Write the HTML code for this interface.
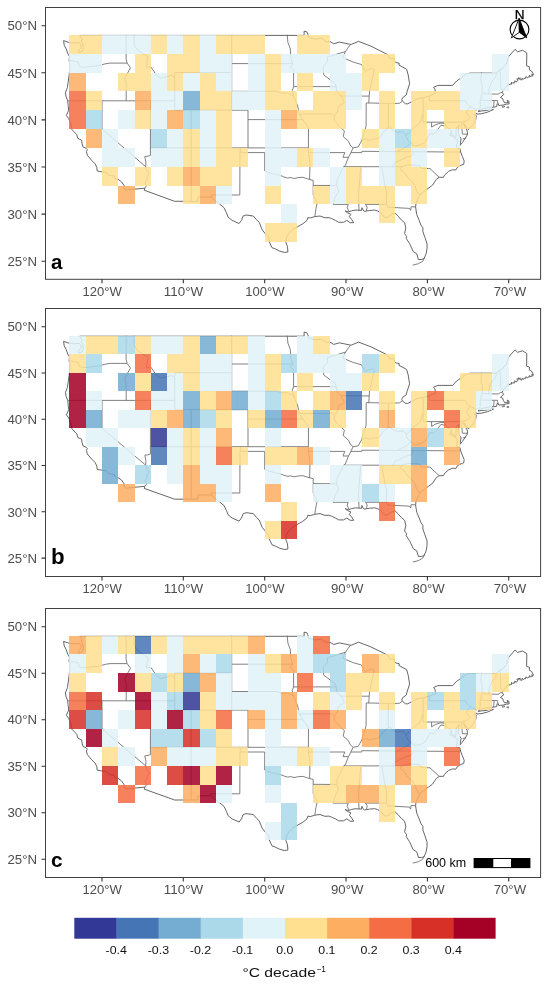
<!DOCTYPE html>
<html lang="en"><head><meta charset="utf-8"><title>Temperature trends</title>
<style>
html,body{margin:0;padding:0;background:#fff}
body{width:550px;height:984px;overflow:hidden}
svg{display:block}
text{font-family:"Liberation Sans",Arial,sans-serif}
.t{font-size:12px;fill:#4d4d4d}
.pl{font-size:20.5px;font-weight:bold;fill:#000}
.lt{font-size:10.9px;fill:#111}
.ltt{font-size:13.3px;fill:#111}
</style></head><body>
<svg width="550" height="984" viewBox="0 0 550 984">
<rect width="550" height="984" fill="#fff"/>
<g class="panel">
<path d="M79.6,35.4 L80.9,37.2 L82.1,39.1 L81.3,40.9 L82.9,43.3 L83.3,47.5 L82.5,50.8 L78.8,52.7 L78.0,50.8 L80.9,48.0 L81.3,45.2 L79.6,42.8 L76.8,42.8 L73.5,43.0 L68.7,42.4 L63.6,40.6 L64.2,45.2 L66.2,48.9 L67.8,53.7 L69.5,56.5 L69.1,60.5 L69.9,64.0 L69.7,69.7 L69.1,75.3 L68.2,81.9 L67.4,87.6 L65.4,92.8 L66.2,97.0 L67.7,100.8 L68.2,105.5 L68.7,110.2 L66.4,115.4 L68.7,118.7 L71.1,124.3 L71.9,129.5 L76.8,134.7 L77.8,138.4 L81.7,140.3 L82.1,143.6 L82.9,146.9 L86.1,148.3 L87.4,149.7 L86.4,151.6 L87.4,155.4 L91.4,160.1 L95.1,163.9 L96.9,167.6 L97.1,170.9 L101.2,171.7 L106.1,172.4 L108.5,174.7 L111.8,175.9 L114.2,175.9 L115.0,178.5 L117.5,178.9 L121.5,181.8 L124.0,185.5 L124.4,188.4 L125.4,190.0 L144.9,188.2 L144.2,190.2 L174.6,201.3 L197.9,201.3 L197.9,197.0 L211.6,197.0 L214.2,200.0 L219.1,203.6 L224.0,207.7 L226.5,212.9 L228.1,217.1 L232.1,220.4 L239.1,223.5 L241.5,220.4 L243.0,216.2 L246.0,215.0 L253.3,216.0 L256.5,219.7 L259.2,222.3 L262.2,229.8 L265.9,234.5 L268.7,237.3 L269.2,241.6 L272.0,247.7 L275.3,248.9 L279.3,251.0 L284.2,252.4 L287.9,252.0 L287.5,246.8 L285.8,242.1 L286.6,237.3 L288.7,233.6 L292.3,229.8 L297.2,227.0 L302.9,223.7 L307.0,220.4 L307.8,217.6 L310.2,218.0 L314.8,216.6 L320.0,216.0 L324.9,217.8 L328.9,217.6 L331.4,218.5 L335.4,220.4 L338.7,222.3 L343.6,222.3 L346.8,220.4 L350.1,222.7 L353.7,222.7 L351.7,219.5 L349.3,216.6 L350.9,214.3 L347.6,212.9 L345.2,211.0 L348.5,211.9 L351.7,210.8 L355.8,210.0 L359.0,210.3 L361.5,210.5 L361.9,207.7 L363.1,210.0 L364.3,211.4 L366.4,211.0 L369.6,210.5 L374.5,210.0 L377.7,211.0 L381.0,212.9 L383.8,216.8 L386.7,217.6 L391.6,214.3 L394.8,212.9 L398.1,216.2 L401.3,219.9 L404.6,222.7 L405.8,227.9 L404.6,233.6 L406.6,236.4 L406.2,238.3 L409.5,243.5 L411.1,246.8 L413.1,251.5 L416.8,253.8 L418.4,259.5 L421.7,259.5 L424.1,258.5 L426.1,253.8 L427.0,248.7 L427.1,243.9 L424.9,237.3 L422.9,231.7 L422.9,227.9 L420.9,225.1 L419.2,220.4 L416.8,214.7 L416.0,210.0 L415.6,207.0 L416.0,203.4 L418.0,198.7 L420.3,194.5 L423.7,191.7 L428.2,188.4 L432.6,185.1 L434.7,181.8 L436.3,179.4 L439.2,177.3 L443.6,177.3 L444.4,175.2 L448.5,171.4 L452.6,169.7 L455.8,170.0 L457.5,167.2 L461.9,164.8 L463.7,164.3 L464.2,161.0 L462.3,156.3 L460.7,152.1 L459.9,148.5 L457.5,148.3 L456.2,146.0 L457.5,142.7 L457.0,139.4 L452.6,136.6 L449.7,135.1 L451.4,131.4 L452.2,135.1 L455.8,137.0 L456.2,131.8 L456.2,128.1 L459.1,124.8 L458.3,130.0 L459.1,135.6 L461.1,138.9 L459.9,145.5 L462.3,142.7 L464.8,138.9 L467.2,135.1 L467.5,132.8 L467.2,130.9 L464.8,126.7 L463.6,123.4 L465.2,125.3 L468.4,129.7 L471.3,126.7 L473.7,123.8 L475.8,119.6 L476.2,115.4 L474.1,114.9 L476.2,113.0 L476.6,114.1 L481.9,113.7 L487.6,112.1 L493.5,109.5 L490.0,109.2 L486.7,110.5 L481.9,110.9 L478.2,111.6 L479.0,110.2 L483.5,108.6 L488.4,107.6 L493.6,107.2 L496.5,106.7 L497.3,103.6 L498.9,105.5 L500.6,105.3 L503.4,105.0 L506.3,104.2 L509.1,103.9 L508.9,101.2 L507.1,100.3 L508.3,102.6 L504.6,102.8 L503.4,100.8 L502.6,98.4 L500.6,97.7 L501.8,96.0 L503.8,94.6 L502.2,92.6 L503.0,90.6 L505.4,87.6 L507.1,85.2 L508.1,85.7 L508.4,83.5 L509.8,84.9 L510.3,83.8 L511.4,84.3 L511.6,82.1 L513.0,83.5 L513.6,82.4 L514.6,82.9 L514.9,80.7 L516.3,82.1 L516.8,81.0 L517.9,80.6 L516.8,78.8 L518.7,78.9 L518.5,77.7 L518.7,78.8 L520.2,77.8 L519.9,79.8 L520.9,79.6 L522.0,80.0 L522.2,77.9 L523.6,79.3 L524.2,78.2 L525.4,78.6 L525.9,76.5 L527.4,77.9 L528.2,76.7 L529.2,77.3 L529.6,75.2 L530.8,76.8 L531.5,75.8 L532.4,76.1 L531.8,74.2 L533.3,75.2 L533.3,74.2 L531.5,70.9 L529.4,69.9 L529.4,66.8 L526.6,65.9 L526.8,53.0 L522.5,50.3 L517.6,51.8 L515.0,49.3 L508.7,56.5 L506.3,64.0 L502.2,68.7 L499.9,69.7 L496.5,73.1 L481.5,73.1 L470.1,73.1 L465.6,74.1 L461.5,77.7 L459.1,79.3 L456.6,81.0 L452.6,85.4 L437.9,85.4 L433.5,87.3 L434.9,88.9 L435.3,91.3 L436.1,92.9 L429.3,96.0 L423.3,97.7 L417.2,98.8 L407.8,103.8 L405.4,103.8 L402.4,101.1 L401.7,99.8 L402.6,97.7 L406.2,95.1 L407.0,91.8 L409.6,83.8 L408.2,74.9 L406.6,69.2 L398.9,65.0 L399.3,63.3 L395.6,62.4 L394.0,60.7 L394.0,58.2 L389.9,58.7 L387.8,54.6 L385.5,53.5 L370.9,46.1 L358.5,41.4 L351.3,44.4 L349.3,44.2 L345.2,43.3 L339.5,42.1 L333.8,43.8 L329.8,41.4 L326.5,41.9 L321.6,38.4 L315.1,39.1 L308.6,37.5 L307.8,33.9 L306.8,31.8 L304.1,31.2 L304.1,35.4 L79.6,35.4Z" fill="none" stroke="#5e5e5e" stroke-width="0.95" stroke-linejoin="round"/>
<path d="M501.9,106.9 L503.8,105.8 L505.0,106.6 L502.6,107.4 L501.9,106.9M506.7,107.4 L508.3,106.6 L508.9,107.8 L507.1,107.9 L506.7,107.4M424.5,258.1 L422.5,261.4 L418.4,263.7 L412.7,265.1M69.1,60.5 L74.3,61.2 L78.4,62.1 L79.2,66.4 L84.1,67.3 L92.2,66.4 L97.9,65.9 L105.3,63.8 L110.1,63.1 L127.1,63.1M126.1,34.8 L126.1,59.0 L127.1,63.1 L130.5,67.8 L127.6,73.0 L124.8,78.6 L126.2,83.3 L126.2,100.8M67.7,100.8 L174.8,100.8M102.0,100.8 L102.0,129.0 L145.7,166.7 L146.2,168.6 L148.0,172.4 L149.6,173.6 L147.1,176.6 L146.6,180.4 L144.9,182.2 L146.7,185.5 L144.9,188.2M145.7,166.7 L145.9,162.0 L144.8,156.5 L148.0,156.1 L150.4,155.4 L150.4,147.9 L150.5,100.8M150.4,147.9 L308.4,147.9M191.1,201.3 L191.1,110.2M174.8,100.8 L174.8,110.2 L231.7,110.2M174.8,100.8 L174.8,72.5 L231.7,72.5M174.8,77.5 L171.5,75.3 L164.6,77.2 L160.2,78.2 L155.3,73.4 L150.8,66.8 L146.3,67.3 L148.0,57.0 L143.1,53.7 L137.0,49.4 L134.1,44.2 L134.1,34.8M231.7,34.8 L231.7,110.2M231.7,63.6 L292.7,63.6M231.7,91.3 L276.9,91.3 L281.8,93.2 L287.5,92.8 L291.5,95.1 L293.6,96.1M231.7,110.2 L248.0,110.2 L248.0,147.9M248.0,119.6 L302.9,119.6M240.3,147.9 L240.3,152.6 L264.7,152.6 L264.7,170.8 L267.9,172.4 L271.2,173.3 L276.1,174.7 L280.1,175.2 L284.2,177.1 L287.5,178.0 L290.7,177.5 L294.0,178.5 L298.8,177.5 L302.9,177.3 L307.8,178.9 L309.6,179.5 L313.2,180.4 L313.2,195.0 L315.5,199.7 L317.1,203.4 L315.9,209.1 L315.5,211.9 L314.8,216.6M240.0,152.6 L239.8,195.0 L210.8,195.0 L211.6,197.0M309.6,179.5 L310.0,162.9 L308.4,152.6 L308.4,147.9 L308.5,128.1 L305.4,123.4 L302.9,119.6 L299.1,114.1 L298.0,107.4 L296.4,102.6 L293.6,96.1 L292.3,90.4 L293.6,86.6 L293.6,69.7 L290.3,66.8 L292.7,63.6 L290.7,57.4 L290.3,48.9 L287.9,42.4 L287.2,34.8M293.6,86.6 L336.1,86.6M299.1,114.1 L331.9,113.9 L334.5,116.0M329.8,56.5 L327.4,56.9 L327.4,62.1 L323.2,66.8 L323.7,74.9 L330.6,80.0 L335.4,83.8 L336.1,86.6 L337.1,92.3 L340.8,96.0 L344.4,102.6 L338.7,106.4 L337.1,112.1 L334.5,116.0 L334.2,120.5 L339.5,126.7 L344.4,130.9 L343.2,136.6 L348.5,141.3 L350.1,145.0 L353.1,147.9 L350.9,152.6 L348.5,157.3 L345.2,165.8 L343.6,166.7 L341.1,172.4 L337.1,179.9 L336.7,185.5 L338.7,191.2 L335.4,196.8 L333.0,204.4 L348.2,204.4 L347.2,207.7 L349.3,211.9M308.4,152.6 L344.8,152.6 L343.0,157.3 L348.5,157.3M313.2,185.4 L336.7,185.5M340.8,96.0 L363.9,96.1M350.5,44.5 L347.6,48.3 L345.5,51.6 L343.7,55.1 L342.8,57.7 L353.3,62.1 L361.5,64.5 L363.9,69.2 L365.5,71.6 L368.0,69.9 L371.8,68.4 L374.5,70.1 L374.0,72.0 L371.8,80.7 L369.6,90.9 L369.2,96.1 L368.8,103.0M329.8,56.5 L337.9,53.8 L345.5,51.6M363.9,96.1 L369.2,96.1M366.2,103.6 L366.2,103.0 L372.0,103.0M399.3,103.3 L402.4,101.1M423.1,100.9 L423.1,97.7M429.3,98.2 L429.3,96.0M366.2,103.6 L366.1,125.7 L365.1,130.0 L362.7,136.1 L361.9,140.3M353.1,147.9 L358.2,146.9 L361.9,140.3 L365.5,138.9 L369.6,140.3 L374.5,138.9 L378.6,138.4 L381.0,135.6 L383.4,131.8 L388.2,128.1 L390.8,128.1 L393.2,130.9 L397.3,132.3 L403.0,131.8 L406.2,134.7 L409.5,132.8 L413.1,128.1 L419.2,123.4 L420.4,122.0 L422.1,115.8 L423.1,113.6M388.2,128.1 L388.3,103.6M372.0,103.0 L388.3,103.6 L399.3,103.3M423.1,100.9 L423.1,122.2M429.3,98.2 L429.3,100.8 L465.2,100.8 L467.6,104.5 L470.5,106.9 L467.2,110.7 L466.4,113.5 L470.1,117.7 L467.2,120.5 L464.4,121.5 L463.6,123.4M470.5,106.9 L477.0,110.2M423.1,122.2 L461.6,122.2 L463.1,121.2 L464.4,121.5M461.6,122.2 L462.3,134.1 L467.6,134.2M431.6,122.2 L431.6,127.1 L435.5,124.8 L440.4,123.2 L444.8,123.4 L445.9,126.0 L447.7,128.1 L450.9,130.0 L451.4,131.4M445.9,126.0 L440.8,125.3 L436.6,131.2 L433.1,134.2 L430.2,133.3 L424.9,142.7 L419.2,145.2 L413.9,146.0 L411.3,142.8 L408.7,141.3 L406.2,136.8 L406.2,134.7M411.3,142.8 L405.4,147.4 L397.4,151.6M460.7,152.1 L413.7,151.7 L397.4,151.6 L361.9,151.3 L361.7,152.6 L350.9,152.6M413.7,151.7 L411.1,156.1 L406.2,157.3 L402.1,159.4 L394.8,162.9 L392.2,166.8M402.1,166.7 L343.6,166.7M402.1,166.7 L407.8,164.8 L418.8,165.3 L419.8,165.8 L420.9,168.4 L430.0,168.6 L439.2,177.3M402.1,166.7 L400.1,169.5 L403.8,171.9 L406.6,176.1 L409.5,179.4 L411.5,181.1 L415.2,185.5 L416.0,189.3 L418.4,194.0 L420.3,194.5M381.8,166.9 L385.2,186.9 L386.7,192.1 L386.3,199.2 L386.7,204.4 L387.8,207.2 L409.5,208.4 L410.7,210.4 L411.1,206.7 L415.6,207.0M386.7,204.4 L365.5,204.4 L367.2,207.2 L366.4,211.0M360.7,166.8 L358.5,195.9 L359.0,210.3M481.5,72.4 L481.0,77.2 L481.0,81.9 L482.3,85.7 L482.1,93.7 L480.2,100.3 L480.3,107.4 L478.4,109.2 L479.0,110.2M496.5,72.4 L495.7,77.2 L492.0,81.0 L490.0,85.7 L488.8,90.4 L488.7,93.9M482.1,93.7 L498.1,94.2 L500.6,92.6 L502.2,92.6M480.2,100.3 L494.1,100.6 L497.5,100.6 L497.5,101.7 L498.9,105.5M494.1,100.6 L493.6,107.2M499.9,69.7 L500.6,81.9 L500.8,87.6 L503.0,90.6M462.7,138.9 L466.1,138.2" fill="none" stroke="#6a6a6a" stroke-width="0.85" stroke-linejoin="round"/>
<g shape-rendering="crispEdges" opacity="0.86"><rect x="69.46" y="34.82" width="16.27" height="18.84" fill="#fee090"/><rect x="85.73" y="34.82" width="16.27" height="18.84" fill="#fee090"/><rect x="102.00" y="34.82" width="16.27" height="18.84" fill="#e0f3f8"/><rect x="118.27" y="34.82" width="16.27" height="18.84" fill="#e0f3f8"/><rect x="134.54" y="34.82" width="16.27" height="18.84" fill="#e0f3f8"/><rect x="150.80" y="34.82" width="16.27" height="18.84" fill="#fee090"/><rect x="167.07" y="34.82" width="16.27" height="18.84" fill="#e0f3f8"/><rect x="183.34" y="34.82" width="16.27" height="18.84" fill="#fee090"/><rect x="199.61" y="34.82" width="16.27" height="18.84" fill="#e0f3f8"/><rect x="215.88" y="34.82" width="16.27" height="18.84" fill="#fee090"/><rect x="232.14" y="34.82" width="16.27" height="18.84" fill="#fee090"/><rect x="248.41" y="34.82" width="16.27" height="18.84" fill="#fee090"/><rect x="297.22" y="34.82" width="16.27" height="18.84" fill="#fee090"/><rect x="313.48" y="34.82" width="16.27" height="18.84" fill="#fee090"/><rect x="69.46" y="53.66" width="16.27" height="18.84" fill="#e0f3f8"/><rect x="85.73" y="53.66" width="16.27" height="18.84" fill="#e0f3f8"/><rect x="134.54" y="53.66" width="16.27" height="18.84" fill="#fee090"/><rect x="167.07" y="53.66" width="16.27" height="18.84" fill="#fee090"/><rect x="183.34" y="53.66" width="16.27" height="18.84" fill="#fee090"/><rect x="199.61" y="53.66" width="16.27" height="18.84" fill="#e0f3f8"/><rect x="215.88" y="53.66" width="16.27" height="18.84" fill="#e0f3f8"/><rect x="248.41" y="53.66" width="16.27" height="18.84" fill="#e0f3f8"/><rect x="264.68" y="53.66" width="16.27" height="18.84" fill="#fee090"/><rect x="280.95" y="53.66" width="16.27" height="18.84" fill="#e0f3f8"/><rect x="297.22" y="53.66" width="16.27" height="18.84" fill="#e0f3f8"/><rect x="313.48" y="53.66" width="16.27" height="18.84" fill="#e0f3f8"/><rect x="329.75" y="53.66" width="16.27" height="18.84" fill="#e0f3f8"/><rect x="362.29" y="53.66" width="16.27" height="18.84" fill="#fee090"/><rect x="378.56" y="53.66" width="16.27" height="18.84" fill="#fee090"/><rect x="492.43" y="53.66" width="16.27" height="18.84" fill="#e0f3f8"/><rect x="69.46" y="72.50" width="16.27" height="18.84" fill="#fdae61"/><rect x="118.27" y="72.50" width="16.27" height="18.84" fill="#fee090"/><rect x="134.54" y="72.50" width="16.27" height="18.84" fill="#fee090"/><rect x="150.80" y="72.50" width="16.27" height="18.84" fill="#e0f3f8"/><rect x="167.07" y="72.50" width="16.27" height="18.84" fill="#fee090"/><rect x="183.34" y="72.50" width="16.27" height="18.84" fill="#e0f3f8"/><rect x="199.61" y="72.50" width="16.27" height="18.84" fill="#fee090"/><rect x="215.88" y="72.50" width="16.27" height="18.84" fill="#e0f3f8"/><rect x="248.41" y="72.50" width="16.27" height="18.84" fill="#e0f3f8"/><rect x="264.68" y="72.50" width="16.27" height="18.84" fill="#fee090"/><rect x="297.22" y="72.50" width="16.27" height="18.84" fill="#fee090"/><rect x="329.75" y="72.50" width="16.27" height="18.84" fill="#e0f3f8"/><rect x="346.02" y="72.50" width="16.27" height="18.84" fill="#e0f3f8"/><rect x="362.29" y="72.50" width="16.27" height="18.84" fill="#fee090"/><rect x="459.90" y="72.50" width="16.27" height="18.84" fill="#e0f3f8"/><rect x="476.16" y="72.50" width="16.27" height="18.84" fill="#e0f3f8"/><rect x="492.43" y="72.50" width="16.27" height="18.84" fill="#e0f3f8"/><rect x="69.46" y="91.34" width="16.27" height="18.84" fill="#f46d43"/><rect x="85.73" y="91.34" width="16.27" height="18.84" fill="#fee090"/><rect x="134.54" y="91.34" width="16.27" height="18.84" fill="#fdae61"/><rect x="150.80" y="91.34" width="16.27" height="18.84" fill="#e0f3f8"/><rect x="167.07" y="91.34" width="16.27" height="18.84" fill="#e0f3f8"/><rect x="183.34" y="91.34" width="16.27" height="18.84" fill="#74add1"/><rect x="199.61" y="91.34" width="16.27" height="18.84" fill="#fee090"/><rect x="215.88" y="91.34" width="16.27" height="18.84" fill="#fee090"/><rect x="232.14" y="91.34" width="16.27" height="18.84" fill="#e0f3f8"/><rect x="248.41" y="91.34" width="16.27" height="18.84" fill="#e0f3f8"/><rect x="264.68" y="91.34" width="16.27" height="18.84" fill="#fee090"/><rect x="280.95" y="91.34" width="16.27" height="18.84" fill="#fee090"/><rect x="313.48" y="91.34" width="16.27" height="18.84" fill="#fee090"/><rect x="329.75" y="91.34" width="16.27" height="18.84" fill="#fee090"/><rect x="346.02" y="91.34" width="16.27" height="18.84" fill="#e0f3f8"/><rect x="378.56" y="91.34" width="16.27" height="18.84" fill="#fee090"/><rect x="411.09" y="91.34" width="16.27" height="18.84" fill="#fee090"/><rect x="427.36" y="91.34" width="16.27" height="18.84" fill="#fee090"/><rect x="443.63" y="91.34" width="16.27" height="18.84" fill="#fee090"/><rect x="459.90" y="91.34" width="16.27" height="18.84" fill="#e0f3f8"/><rect x="476.16" y="91.34" width="16.27" height="18.84" fill="#e0f3f8"/><rect x="69.46" y="110.18" width="16.27" height="18.84" fill="#f46d43"/><rect x="85.73" y="110.18" width="16.27" height="18.84" fill="#abd9e9"/><rect x="118.27" y="110.18" width="16.27" height="18.84" fill="#e0f3f8"/><rect x="134.54" y="110.18" width="16.27" height="18.84" fill="#fee090"/><rect x="150.80" y="110.18" width="16.27" height="18.84" fill="#e0f3f8"/><rect x="167.07" y="110.18" width="16.27" height="18.84" fill="#fdae61"/><rect x="183.34" y="110.18" width="16.27" height="18.84" fill="#abd9e9"/><rect x="199.61" y="110.18" width="16.27" height="18.84" fill="#e0f3f8"/><rect x="215.88" y="110.18" width="16.27" height="18.84" fill="#fee090"/><rect x="264.68" y="110.18" width="16.27" height="18.84" fill="#e0f3f8"/><rect x="280.95" y="110.18" width="16.27" height="18.84" fill="#fdae61"/><rect x="297.22" y="110.18" width="16.27" height="18.84" fill="#fee090"/><rect x="313.48" y="110.18" width="16.27" height="18.84" fill="#fee090"/><rect x="329.75" y="110.18" width="16.27" height="18.84" fill="#fee090"/><rect x="378.56" y="110.18" width="16.27" height="18.84" fill="#fee090"/><rect x="411.09" y="110.18" width="16.27" height="18.84" fill="#fee090"/><rect x="443.63" y="110.18" width="16.27" height="18.84" fill="#fee090"/><rect x="459.90" y="110.18" width="16.27" height="18.84" fill="#fee090"/><rect x="85.73" y="129.02" width="16.27" height="18.84" fill="#fdae61"/><rect x="102.00" y="129.02" width="16.27" height="18.84" fill="#e0f3f8"/><rect x="150.80" y="129.02" width="16.27" height="18.84" fill="#abd9e9"/><rect x="167.07" y="129.02" width="16.27" height="18.84" fill="#e0f3f8"/><rect x="183.34" y="129.02" width="16.27" height="18.84" fill="#fee090"/><rect x="199.61" y="129.02" width="16.27" height="18.84" fill="#e0f3f8"/><rect x="215.88" y="129.02" width="16.27" height="18.84" fill="#fee090"/><rect x="264.68" y="129.02" width="16.27" height="18.84" fill="#e0f3f8"/><rect x="362.29" y="129.02" width="16.27" height="18.84" fill="#fee090"/><rect x="378.56" y="129.02" width="16.27" height="18.84" fill="#e0f3f8"/><rect x="394.82" y="129.02" width="16.27" height="18.84" fill="#abd9e9"/><rect x="411.09" y="129.02" width="16.27" height="18.84" fill="#fee090"/><rect x="427.36" y="129.02" width="16.27" height="18.84" fill="#e0f3f8"/><rect x="443.63" y="129.02" width="16.27" height="18.84" fill="#e0f3f8"/><rect x="102.00" y="147.86" width="16.27" height="18.84" fill="#e0f3f8"/><rect x="118.27" y="147.86" width="16.27" height="18.84" fill="#e0f3f8"/><rect x="150.80" y="147.86" width="16.27" height="18.84" fill="#e0f3f8"/><rect x="167.07" y="147.86" width="16.27" height="18.84" fill="#e0f3f8"/><rect x="183.34" y="147.86" width="16.27" height="18.84" fill="#fee090"/><rect x="199.61" y="147.86" width="16.27" height="18.84" fill="#e0f3f8"/><rect x="215.88" y="147.86" width="16.27" height="18.84" fill="#fee090"/><rect x="232.14" y="147.86" width="16.27" height="18.84" fill="#fee090"/><rect x="264.68" y="147.86" width="16.27" height="18.84" fill="#e0f3f8"/><rect x="280.95" y="147.86" width="16.27" height="18.84" fill="#e0f3f8"/><rect x="297.22" y="147.86" width="16.27" height="18.84" fill="#fee090"/><rect x="313.48" y="147.86" width="16.27" height="18.84" fill="#e0f3f8"/><rect x="378.56" y="147.86" width="16.27" height="18.84" fill="#e0f3f8"/><rect x="394.82" y="147.86" width="16.27" height="18.84" fill="#fee090"/><rect x="411.09" y="147.86" width="16.27" height="18.84" fill="#e0f3f8"/><rect x="443.63" y="147.86" width="16.27" height="18.84" fill="#fee090"/><rect x="102.00" y="166.70" width="16.27" height="18.84" fill="#fee090"/><rect x="134.54" y="166.70" width="16.27" height="18.84" fill="#fee090"/><rect x="167.07" y="166.70" width="16.27" height="18.84" fill="#fee090"/><rect x="183.34" y="166.70" width="16.27" height="18.84" fill="#fdae61"/><rect x="199.61" y="166.70" width="16.27" height="18.84" fill="#fee090"/><rect x="215.88" y="166.70" width="16.27" height="18.84" fill="#fee090"/><rect x="264.68" y="166.70" width="16.27" height="18.84" fill="#e0f3f8"/><rect x="329.75" y="166.70" width="16.27" height="18.84" fill="#e0f3f8"/><rect x="346.02" y="166.70" width="16.27" height="18.84" fill="#fee090"/><rect x="378.56" y="166.70" width="16.27" height="18.84" fill="#e0f3f8"/><rect x="394.82" y="166.70" width="16.27" height="18.84" fill="#fee090"/><rect x="411.09" y="166.70" width="16.27" height="18.84" fill="#fee090"/><rect x="118.27" y="185.54" width="16.27" height="18.84" fill="#fdae61"/><rect x="183.34" y="185.54" width="16.27" height="18.84" fill="#fee090"/><rect x="199.61" y="185.54" width="16.27" height="18.84" fill="#fdae61"/><rect x="215.88" y="185.54" width="16.27" height="18.84" fill="#e0f3f8"/><rect x="264.68" y="185.54" width="16.27" height="18.84" fill="#fee090"/><rect x="313.48" y="185.54" width="16.27" height="18.84" fill="#fee090"/><rect x="329.75" y="185.54" width="16.27" height="18.84" fill="#e0f3f8"/><rect x="346.02" y="185.54" width="16.27" height="18.84" fill="#fee090"/><rect x="362.29" y="185.54" width="16.27" height="18.84" fill="#fee090"/><rect x="378.56" y="185.54" width="16.27" height="18.84" fill="#fee090"/><rect x="411.09" y="185.54" width="16.27" height="18.84" fill="#fee090"/><rect x="280.95" y="204.38" width="16.27" height="18.84" fill="#e0f3f8"/><rect x="378.56" y="204.38" width="16.27" height="18.84" fill="#fee090"/><rect x="264.68" y="223.22" width="16.27" height="18.84" fill="#fee090"/><rect x="280.95" y="223.22" width="16.27" height="18.84" fill="#fee090"/></g>
<rect x="45.5" y="7.5" width="495.1" height="271.8" fill="none" stroke="#404040" stroke-width="1"/>
<path d="M41.5,25.7H45.5M41.5,72.8H45.5M41.5,119.9H45.5M41.5,167.0H45.5M41.5,214.1H45.5M41.5,261.2H45.5M102.0,279.3v4M183.3,279.3v4M264.7,279.3v4M346.0,279.3v4M427.4,279.3v4M508.7,279.3v4" stroke="#333" stroke-width="1.1" fill="none"/>
<text class="t" x="37.1" y="30.4" text-anchor="end" textLength="29.6" lengthAdjust="spacingAndGlyphs">50°N</text>
<text class="t" x="37.1" y="77.5" text-anchor="end" textLength="29.6" lengthAdjust="spacingAndGlyphs">45°N</text>
<text class="t" x="37.1" y="124.6" text-anchor="end" textLength="29.6" lengthAdjust="spacingAndGlyphs">40°N</text>
<text class="t" x="37.1" y="171.7" text-anchor="end" textLength="29.6" lengthAdjust="spacingAndGlyphs">35°N</text>
<text class="t" x="37.1" y="218.8" text-anchor="end" textLength="29.6" lengthAdjust="spacingAndGlyphs">30°N</text>
<text class="t" x="37.1" y="265.9" text-anchor="end" textLength="29.6" lengthAdjust="spacingAndGlyphs">25°N</text>
<text class="t" x="102.2" y="295.8" text-anchor="middle" textLength="39.3" lengthAdjust="spacingAndGlyphs">120°W</text>
<text class="t" x="183.5" y="295.8" text-anchor="middle" textLength="39.3" lengthAdjust="spacingAndGlyphs">110°W</text>
<text class="t" x="264.9" y="295.8" text-anchor="middle" textLength="39.3" lengthAdjust="spacingAndGlyphs">100°W</text>
<text class="t" x="347.2" y="295.8" text-anchor="middle" textLength="32.4" lengthAdjust="spacingAndGlyphs">90°W</text>
<text class="t" x="428.6" y="295.8" text-anchor="middle" textLength="32.4" lengthAdjust="spacingAndGlyphs">80°W</text>
<text class="t" x="509.9" y="295.8" text-anchor="middle" textLength="32.4" lengthAdjust="spacingAndGlyphs">70°W</text>
<text class="pl" x="51" y="268.8" style="font-size:20.5px">a</text>
</g>
<g class="panel">
<path d="M79.6,336.2 L80.9,338.0 L82.1,339.8 L81.3,341.7 L82.9,344.0 L83.3,348.2 L82.5,351.4 L78.8,353.2 L78.0,351.4 L80.9,348.6 L81.3,345.8 L79.6,343.5 L76.8,343.5 L73.5,343.7 L68.7,343.1 L63.6,341.3 L64.2,345.8 L66.2,349.5 L67.8,354.2 L69.5,356.9 L69.1,360.9 L69.9,364.3 L69.7,369.9 L69.1,375.5 L68.2,381.9 L67.4,387.5 L65.4,392.6 L66.2,396.7 L67.7,400.4 L68.2,405.1 L68.7,409.7 L66.4,414.8 L68.7,418.0 L71.1,423.6 L71.9,428.7 L76.8,433.8 L77.8,437.5 L81.7,439.3 L82.1,442.6 L82.9,445.8 L86.1,447.2 L87.4,448.6 L86.4,450.4 L87.4,454.1 L91.4,458.8 L95.1,462.5 L96.9,466.2 L97.1,469.4 L101.2,470.1 L106.1,470.8 L108.5,473.1 L111.8,474.3 L114.2,474.3 L115.0,476.8 L117.5,477.3 L121.5,480.0 L124.0,483.8 L124.4,486.5 L125.4,488.1 L144.9,486.3 L144.2,488.4 L174.6,499.2 L197.9,499.2 L197.9,495.0 L211.6,495.0 L214.2,497.9 L219.1,501.5 L224.0,505.5 L226.5,510.6 L228.1,514.8 L232.1,518.0 L239.1,521.1 L241.5,518.0 L243.0,513.9 L246.0,512.7 L253.3,513.6 L256.5,517.4 L259.2,519.9 L262.2,527.3 L265.9,531.9 L268.7,534.7 L269.2,538.8 L272.0,544.8 L275.3,546.0 L279.3,548.1 L284.2,549.5 L287.9,549.0 L287.5,543.9 L285.8,539.3 L286.6,534.7 L288.7,531.0 L292.3,527.3 L297.2,524.5 L302.9,521.2 L307.0,518.0 L307.8,515.2 L310.2,515.7 L314.8,514.3 L320.0,513.6 L324.9,515.4 L328.9,515.2 L331.4,516.1 L335.4,518.0 L338.7,519.9 L343.6,519.9 L346.8,518.0 L350.1,520.3 L353.7,520.3 L351.7,517.1 L349.3,514.3 L350.9,512.0 L347.6,510.6 L345.2,508.7 L348.5,509.7 L351.7,508.6 L355.8,507.8 L359.0,508.1 L361.5,508.3 L361.9,505.5 L363.1,507.8 L364.3,509.2 L366.4,508.7 L369.6,508.3 L374.5,507.8 L377.7,508.7 L381.0,510.6 L383.8,514.5 L386.7,515.2 L391.6,512.0 L394.8,510.6 L398.1,513.8 L401.3,517.5 L404.6,520.3 L405.8,525.4 L404.6,531.0 L406.6,533.7 L406.2,535.6 L409.5,540.7 L411.1,543.9 L413.1,548.5 L416.8,550.9 L418.4,556.4 L421.7,556.4 L424.1,555.5 L426.1,550.9 L427.0,545.8 L427.1,541.1 L424.9,534.7 L422.9,529.1 L422.9,525.4 L420.9,522.6 L419.2,518.0 L416.8,512.4 L416.0,507.8 L415.6,504.9 L416.0,501.3 L418.0,496.7 L420.3,492.5 L423.7,489.8 L428.2,486.5 L432.6,483.3 L434.7,480.0 L436.3,477.7 L439.2,475.7 L443.6,475.6 L444.4,473.6 L448.5,469.9 L452.6,468.2 L455.8,468.5 L457.5,465.7 L461.9,463.4 L463.7,462.9 L464.2,459.7 L462.3,455.1 L460.7,450.9 L459.9,447.4 L457.5,447.2 L456.2,444.9 L457.5,441.6 L457.0,438.4 L452.6,435.6 L449.7,434.2 L451.4,430.5 L452.2,434.2 L455.8,436.1 L456.2,431.0 L456.2,427.3 L459.1,424.1 L458.3,429.1 L459.1,434.7 L461.1,437.9 L459.9,444.4 L462.3,441.6 L464.8,437.9 L467.2,434.2 L467.5,431.9 L467.2,430.1 L464.8,425.9 L463.6,422.7 L465.2,424.5 L468.4,428.9 L471.3,425.9 L473.7,423.1 L475.8,419.0 L476.2,414.8 L474.1,414.3 L476.2,412.5 L476.6,413.6 L481.9,413.1 L487.6,411.6 L493.5,409.1 L490.0,408.8 L486.7,410.0 L481.9,410.4 L478.2,411.1 L479.0,409.7 L483.5,408.1 L488.4,407.2 L493.6,406.7 L496.5,406.3 L497.3,403.2 L498.9,405.1 L500.6,404.9 L503.4,404.6 L506.3,403.9 L509.1,403.5 L508.9,400.9 L507.1,400.0 L508.3,402.3 L504.6,402.5 L503.4,400.4 L502.6,398.1 L500.6,397.4 L501.8,395.8 L503.8,394.4 L502.2,392.4 L503.0,390.5 L505.4,387.5 L507.1,385.2 L508.1,385.6 L508.4,383.5 L509.8,384.9 L510.3,383.8 L511.4,384.2 L511.6,382.1 L513.0,383.5 L513.6,382.4 L514.6,382.9 L514.9,380.7 L516.3,382.1 L516.8,381.0 L517.9,380.6 L516.8,378.9 L518.7,379.0 L518.5,377.8 L518.7,378.9 L520.2,377.9 L519.9,379.8 L520.9,379.6 L522.0,380.1 L522.2,378.0 L523.6,379.3 L524.2,378.2 L525.4,378.7 L525.9,376.6 L527.4,378.0 L528.2,376.8 L529.2,377.4 L529.6,375.4 L530.8,376.9 L531.5,375.9 L532.4,376.2 L531.8,374.3 L533.3,375.4 L533.3,374.3 L531.5,371.1 L529.4,370.1 L529.4,367.1 L526.6,366.2 L526.8,353.5 L522.5,350.8 L517.6,352.3 L515.0,349.9 L508.7,356.9 L506.3,364.3 L502.2,369.0 L499.9,369.9 L496.5,373.2 L481.5,373.2 L470.1,373.2 L465.6,374.3 L461.5,377.8 L459.1,379.3 L456.6,381.0 L452.6,385.4 L437.9,385.4 L433.5,387.2 L434.9,388.8 L435.3,391.2 L436.1,392.8 L429.3,395.8 L423.3,397.5 L417.2,398.5 L407.8,403.4 L405.4,403.4 L402.4,400.8 L401.7,399.5 L402.6,397.4 L406.2,394.9 L407.0,391.7 L409.6,383.8 L408.2,375.0 L406.6,369.4 L398.9,365.3 L399.3,363.6 L395.6,362.8 L394.0,361.1 L394.0,358.6 L389.9,359.1 L387.8,355.1 L385.5,354.0 L370.9,346.8 L358.5,342.1 L351.3,345.1 L349.3,344.9 L345.2,344.0 L339.5,342.8 L333.8,344.4 L329.8,342.1 L326.5,342.6 L321.6,339.2 L315.1,339.8 L308.6,338.2 L307.8,334.7 L306.8,332.7 L304.1,332.1 L304.1,336.2 L79.6,336.2Z" fill="none" stroke="#5e5e5e" stroke-width="0.95" stroke-linejoin="round"/>
<path d="M501.9,406.5 L503.8,405.4 L505.0,406.2 L502.6,406.9 L501.9,406.5M506.7,406.9 L508.3,406.2 L508.9,407.4 L507.1,407.5 L506.7,406.9M424.5,555.0 L422.5,558.3 L418.4,560.6 L412.7,562.0M69.1,360.9 L74.3,361.6 L78.4,362.5 L79.2,366.7 L84.1,367.6 L92.2,366.7 L97.9,366.2 L105.3,364.2 L110.1,363.4 L127.1,363.4M126.1,335.7 L126.1,359.4 L127.1,363.4 L130.5,368.1 L127.6,373.1 L124.8,378.7 L126.2,383.3 L126.2,400.4M67.7,400.4 L174.8,400.4M102.0,400.4 L102.0,428.2 L145.7,465.2 L146.2,467.1 L148.0,470.8 L149.6,472.0 L147.1,475.0 L146.6,478.7 L144.9,480.5 L146.7,483.8 L144.9,486.3M145.7,465.2 L145.9,460.6 L144.8,455.2 L148.0,454.8 L150.4,454.1 L150.4,446.7 L150.5,400.4M150.4,446.7 L308.4,446.7M191.1,499.2 L191.1,409.7M174.8,400.4 L174.8,409.7 L231.7,409.7M174.8,400.4 L174.8,372.7 L231.7,372.7M174.8,377.6 L171.5,375.5 L164.6,377.3 L160.2,378.2 L155.3,373.6 L150.8,367.1 L146.3,367.6 L148.0,357.4 L143.1,354.2 L137.0,350.0 L134.1,344.9 L134.1,335.7M231.7,335.7 L231.7,409.7M231.7,364.0 L292.7,364.0M231.7,391.2 L276.9,391.2 L281.8,393.0 L287.5,392.6 L291.5,394.9 L293.6,395.9M231.7,409.7 L248.0,409.7 L248.0,446.7M248.0,419.0 L302.9,419.0M240.3,446.7 L240.3,451.4 L264.7,451.4 L264.7,469.3 L267.9,470.8 L271.2,471.7 L276.1,473.1 L280.1,473.6 L284.2,475.4 L287.5,476.3 L290.7,475.9 L294.0,476.8 L298.8,475.9 L302.9,475.7 L307.8,477.3 L309.6,477.8 L313.2,478.7 L313.2,493.0 L315.5,497.6 L317.1,501.3 L315.9,506.9 L315.5,509.7 L314.8,514.3M240.0,451.4 L239.8,493.0 L210.8,493.0 L211.6,495.0M309.6,477.8 L310.0,461.5 L308.4,451.4 L308.4,446.7 L308.5,427.3 L305.4,422.7 L302.9,419.0 L299.1,413.6 L298.0,406.9 L296.4,402.3 L293.6,395.9 L292.3,390.3 L293.6,386.6 L293.6,369.9 L290.3,367.1 L292.7,364.0 L290.7,357.9 L290.3,349.5 L287.9,343.1 L287.2,335.7M293.6,386.6 L336.1,386.6M299.1,413.6 L331.9,413.3 L334.5,415.4M329.8,356.9 L327.4,357.3 L327.4,362.5 L323.2,367.1 L323.7,375.0 L330.6,380.1 L335.4,383.8 L336.1,386.6 L337.1,392.1 L340.8,395.7 L344.4,402.3 L338.7,406.0 L337.1,411.6 L334.5,415.4 L334.2,419.9 L339.5,425.9 L344.4,430.1 L343.2,435.6 L348.5,440.2 L350.1,444.0 L353.1,446.7 L350.9,451.4 L348.5,456.0 L345.2,464.3 L343.6,465.2 L341.1,470.8 L337.1,478.2 L336.7,483.8 L338.7,489.3 L335.4,494.9 L333.0,502.3 L348.2,502.3 L347.2,505.5 L349.3,509.7M308.4,451.4 L344.8,451.4 L343.0,456.0 L348.5,456.0M313.2,483.6 L336.7,483.8M340.8,395.7 L363.9,395.9M350.5,345.2 L347.6,348.9 L345.5,352.1 L343.7,355.6 L342.8,358.1 L353.3,362.5 L361.5,364.8 L363.9,369.4 L365.5,371.8 L368.0,370.1 L371.8,368.6 L374.5,370.4 L374.0,372.2 L371.8,380.7 L369.6,390.7 L369.2,395.9 L368.8,402.7M329.8,356.9 L337.9,354.4 L345.5,352.1M363.9,395.9 L369.2,395.9M366.2,403.2 L366.2,402.7 L372.0,402.7M399.3,402.9 L402.4,400.8M423.1,400.6 L423.1,397.5M429.3,397.9 L429.3,395.8M366.2,403.2 L366.1,425.0 L365.1,429.1 L362.7,435.2 L361.9,439.3M353.1,446.7 L358.2,445.8 L361.9,439.3 L365.5,437.9 L369.6,439.3 L374.5,437.9 L378.6,437.5 L381.0,434.7 L383.4,431.0 L388.2,427.3 L390.8,427.3 L393.2,430.1 L397.3,431.5 L403.0,431.0 L406.2,433.8 L409.5,431.9 L413.1,427.3 L419.2,422.7 L420.4,421.3 L422.1,415.3 L423.1,413.0M388.2,427.3 L388.3,403.2M372.0,402.7 L388.3,403.2 L399.3,402.9M423.1,400.6 L423.1,421.6M429.3,397.9 L429.3,400.4 L465.2,400.4 L467.6,404.2 L470.5,406.5 L467.2,410.2 L466.4,412.9 L470.1,417.1 L467.2,419.9 L464.4,420.8 L463.6,422.7M470.5,406.5 L477.0,409.7M423.1,421.6 L461.6,421.6 L463.1,420.5 L464.4,420.8M461.6,421.6 L462.3,433.2 L467.6,433.3M431.6,421.6 L431.6,426.4 L435.5,424.1 L440.4,422.5 L444.8,422.7 L445.9,425.3 L447.7,427.3 L450.9,429.1 L451.4,430.5M445.9,425.3 L440.8,424.5 L436.6,430.3 L433.1,433.3 L430.2,432.4 L424.9,441.6 L419.2,444.1 L413.9,444.9 L411.3,441.7 L408.7,440.2 L406.2,435.9 L406.2,433.8M411.3,441.7 L405.4,446.3 L397.4,450.4M460.7,450.9 L413.7,450.5 L397.4,450.4 L361.9,450.2 L361.7,451.4 L350.9,451.4M413.7,450.5 L411.1,454.9 L406.2,456.0 L402.1,458.1 L394.8,461.5 L392.2,465.3M402.1,465.2 L343.6,465.2M402.1,465.2 L407.8,463.4 L418.8,463.9 L419.8,464.3 L420.9,466.9 L430.0,467.1 L439.2,475.7M402.1,465.2 L400.1,468.0 L403.8,470.3 L406.6,474.5 L409.5,477.7 L411.5,479.4 L415.2,483.8 L416.0,487.5 L418.4,492.1 L420.3,492.5M381.8,465.4 L385.2,485.0 L386.7,490.2 L386.3,497.2 L386.7,502.3 L387.8,505.0 L409.5,506.2 L410.7,508.2 L411.1,504.6 L415.6,504.9M386.7,502.3 L365.5,502.3 L367.2,505.0 L366.4,508.7M360.7,465.3 L358.5,493.9 L359.0,508.1M481.5,372.6 L481.0,377.3 L481.0,381.9 L482.3,385.6 L482.1,393.5 L480.2,400.0 L480.3,406.9 L478.4,408.8 L479.0,409.7M496.5,372.6 L495.7,377.3 L492.0,381.0 L490.0,385.6 L488.8,390.3 L488.7,393.7M482.1,393.5 L498.1,394.0 L500.6,392.4 L502.2,392.4M480.2,400.0 L494.1,400.3 L497.5,400.3 L497.5,401.4 L498.9,405.1M494.1,400.3 L493.6,406.7M499.9,369.9 L500.6,381.9 L500.8,387.5 L503.0,390.5M462.7,437.9 L466.1,437.2" fill="none" stroke="#6a6a6a" stroke-width="0.85" stroke-linejoin="round"/>
<g shape-rendering="crispEdges" opacity="0.86"><rect x="69.46" y="335.66" width="16.27" height="18.51" fill="#e0f3f8"/><rect x="85.73" y="335.66" width="16.27" height="18.51" fill="#fee090"/><rect x="102.00" y="335.66" width="16.27" height="18.51" fill="#fee090"/><rect x="118.27" y="335.66" width="16.27" height="18.51" fill="#abd9e9"/><rect x="134.54" y="335.66" width="16.27" height="18.51" fill="#fee090"/><rect x="150.80" y="335.66" width="16.27" height="18.51" fill="#e0f3f8"/><rect x="167.07" y="335.66" width="16.27" height="18.51" fill="#e0f3f8"/><rect x="183.34" y="335.66" width="16.27" height="18.51" fill="#fee090"/><rect x="199.61" y="335.66" width="16.27" height="18.51" fill="#74add1"/><rect x="215.88" y="335.66" width="16.27" height="18.51" fill="#fee090"/><rect x="232.14" y="335.66" width="16.27" height="18.51" fill="#fee090"/><rect x="248.41" y="335.66" width="16.27" height="18.51" fill="#e0f3f8"/><rect x="297.22" y="335.66" width="16.27" height="18.51" fill="#e0f3f8"/><rect x="313.48" y="335.66" width="16.27" height="18.51" fill="#fee090"/><rect x="69.46" y="354.17" width="16.27" height="18.51" fill="#fee090"/><rect x="85.73" y="354.17" width="16.27" height="18.51" fill="#abd9e9"/><rect x="134.54" y="354.17" width="16.27" height="18.51" fill="#f46d43"/><rect x="167.07" y="354.17" width="16.27" height="18.51" fill="#fee090"/><rect x="183.34" y="354.17" width="16.27" height="18.51" fill="#fee090"/><rect x="199.61" y="354.17" width="16.27" height="18.51" fill="#e0f3f8"/><rect x="215.88" y="354.17" width="16.27" height="18.51" fill="#e0f3f8"/><rect x="248.41" y="354.17" width="16.27" height="18.51" fill="#e0f3f8"/><rect x="264.68" y="354.17" width="16.27" height="18.51" fill="#fee090"/><rect x="280.95" y="354.17" width="16.27" height="18.51" fill="#abd9e9"/><rect x="297.22" y="354.17" width="16.27" height="18.51" fill="#e0f3f8"/><rect x="313.48" y="354.17" width="16.27" height="18.51" fill="#e0f3f8"/><rect x="329.75" y="354.17" width="16.27" height="18.51" fill="#e0f3f8"/><rect x="362.29" y="354.17" width="16.27" height="18.51" fill="#abd9e9"/><rect x="378.56" y="354.17" width="16.27" height="18.51" fill="#fee090"/><rect x="492.43" y="354.17" width="16.27" height="18.51" fill="#e0f3f8"/><rect x="69.46" y="372.68" width="16.27" height="18.51" fill="#a50026"/><rect x="118.27" y="372.68" width="16.27" height="18.51" fill="#74add1"/><rect x="134.54" y="372.68" width="16.27" height="18.51" fill="#fee090"/><rect x="150.80" y="372.68" width="16.27" height="18.51" fill="#4575b4"/><rect x="167.07" y="372.68" width="16.27" height="18.51" fill="#e0f3f8"/><rect x="183.34" y="372.68" width="16.27" height="18.51" fill="#fee090"/><rect x="199.61" y="372.68" width="16.27" height="18.51" fill="#e0f3f8"/><rect x="215.88" y="372.68" width="16.27" height="18.51" fill="#e0f3f8"/><rect x="248.41" y="372.68" width="16.27" height="18.51" fill="#e0f3f8"/><rect x="264.68" y="372.68" width="16.27" height="18.51" fill="#fee090"/><rect x="297.22" y="372.68" width="16.27" height="18.51" fill="#fee090"/><rect x="329.75" y="372.68" width="16.27" height="18.51" fill="#e0f3f8"/><rect x="346.02" y="372.68" width="16.27" height="18.51" fill="#e0f3f8"/><rect x="362.29" y="372.68" width="16.27" height="18.51" fill="#fee090"/><rect x="459.90" y="372.68" width="16.27" height="18.51" fill="#fee090"/><rect x="476.16" y="372.68" width="16.27" height="18.51" fill="#fee090"/><rect x="492.43" y="372.68" width="16.27" height="18.51" fill="#e0f3f8"/><rect x="69.46" y="391.19" width="16.27" height="18.51" fill="#a50026"/><rect x="85.73" y="391.19" width="16.27" height="18.51" fill="#e0f3f8"/><rect x="134.54" y="391.19" width="16.27" height="18.51" fill="#f46d43"/><rect x="150.80" y="391.19" width="16.27" height="18.51" fill="#e0f3f8"/><rect x="167.07" y="391.19" width="16.27" height="18.51" fill="#e0f3f8"/><rect x="183.34" y="391.19" width="16.27" height="18.51" fill="#74add1"/><rect x="199.61" y="391.19" width="16.27" height="18.51" fill="#fee090"/><rect x="215.88" y="391.19" width="16.27" height="18.51" fill="#fdae61"/><rect x="232.14" y="391.19" width="16.27" height="18.51" fill="#74add1"/><rect x="248.41" y="391.19" width="16.27" height="18.51" fill="#e0f3f8"/><rect x="264.68" y="391.19" width="16.27" height="18.51" fill="#abd9e9"/><rect x="280.95" y="391.19" width="16.27" height="18.51" fill="#fee090"/><rect x="313.48" y="391.19" width="16.27" height="18.51" fill="#fee090"/><rect x="329.75" y="391.19" width="16.27" height="18.51" fill="#fdae61"/><rect x="346.02" y="391.19" width="16.27" height="18.51" fill="#4575b4"/><rect x="378.56" y="391.19" width="16.27" height="18.51" fill="#fee090"/><rect x="411.09" y="391.19" width="16.27" height="18.51" fill="#fee090"/><rect x="427.36" y="391.19" width="16.27" height="18.51" fill="#f46d43"/><rect x="443.63" y="391.19" width="16.27" height="18.51" fill="#fee090"/><rect x="459.90" y="391.19" width="16.27" height="18.51" fill="#fee090"/><rect x="476.16" y="391.19" width="16.27" height="18.51" fill="#e0f3f8"/><rect x="69.46" y="409.70" width="16.27" height="18.51" fill="#a50026"/><rect x="85.73" y="409.70" width="16.27" height="18.51" fill="#74add1"/><rect x="118.27" y="409.70" width="16.27" height="18.51" fill="#e0f3f8"/><rect x="134.54" y="409.70" width="16.27" height="18.51" fill="#e0f3f8"/><rect x="150.80" y="409.70" width="16.27" height="18.51" fill="#fee090"/><rect x="167.07" y="409.70" width="16.27" height="18.51" fill="#fdae61"/><rect x="183.34" y="409.70" width="16.27" height="18.51" fill="#74add1"/><rect x="199.61" y="409.70" width="16.27" height="18.51" fill="#abd9e9"/><rect x="215.88" y="409.70" width="16.27" height="18.51" fill="#fee090"/><rect x="248.41" y="409.70" width="16.27" height="18.51" fill="#fee090"/><rect x="264.68" y="409.70" width="16.27" height="18.51" fill="#74add1"/><rect x="280.95" y="409.70" width="16.27" height="18.51" fill="#f46d43"/><rect x="297.22" y="409.70" width="16.27" height="18.51" fill="#fee090"/><rect x="313.48" y="409.70" width="16.27" height="18.51" fill="#74add1"/><rect x="329.75" y="409.70" width="16.27" height="18.51" fill="#fee090"/><rect x="378.56" y="409.70" width="16.27" height="18.51" fill="#fdae61"/><rect x="411.09" y="409.70" width="16.27" height="18.51" fill="#fee090"/><rect x="443.63" y="409.70" width="16.27" height="18.51" fill="#f46d43"/><rect x="459.90" y="409.70" width="16.27" height="18.51" fill="#fee090"/><rect x="85.73" y="428.22" width="16.27" height="18.51" fill="#e0f3f8"/><rect x="102.00" y="428.22" width="16.27" height="18.51" fill="#e0f3f8"/><rect x="150.80" y="428.22" width="16.27" height="18.51" fill="#323896"/><rect x="167.07" y="428.22" width="16.27" height="18.51" fill="#e0f3f8"/><rect x="183.34" y="428.22" width="16.27" height="18.51" fill="#fee090"/><rect x="199.61" y="428.22" width="16.27" height="18.51" fill="#e0f3f8"/><rect x="215.88" y="428.22" width="16.27" height="18.51" fill="#fdae61"/><rect x="264.68" y="428.22" width="16.27" height="18.51" fill="#e0f3f8"/><rect x="362.29" y="428.22" width="16.27" height="18.51" fill="#fee090"/><rect x="378.56" y="428.22" width="16.27" height="18.51" fill="#e0f3f8"/><rect x="394.82" y="428.22" width="16.27" height="18.51" fill="#e0f3f8"/><rect x="411.09" y="428.22" width="16.27" height="18.51" fill="#fdae61"/><rect x="427.36" y="428.22" width="16.27" height="18.51" fill="#abd9e9"/><rect x="443.63" y="428.22" width="16.27" height="18.51" fill="#fee090"/><rect x="102.00" y="446.73" width="16.27" height="18.51" fill="#74add1"/><rect x="118.27" y="446.73" width="16.27" height="18.51" fill="#e0f3f8"/><rect x="150.80" y="446.73" width="16.27" height="18.51" fill="#4575b4"/><rect x="167.07" y="446.73" width="16.27" height="18.51" fill="#e0f3f8"/><rect x="183.34" y="446.73" width="16.27" height="18.51" fill="#fee090"/><rect x="199.61" y="446.73" width="16.27" height="18.51" fill="#e0f3f8"/><rect x="215.88" y="446.73" width="16.27" height="18.51" fill="#f46d43"/><rect x="232.14" y="446.73" width="16.27" height="18.51" fill="#fee090"/><rect x="264.68" y="446.73" width="16.27" height="18.51" fill="#fee090"/><rect x="280.95" y="446.73" width="16.27" height="18.51" fill="#fee090"/><rect x="297.22" y="446.73" width="16.27" height="18.51" fill="#fdae61"/><rect x="313.48" y="446.73" width="16.27" height="18.51" fill="#e0f3f8"/><rect x="378.56" y="446.73" width="16.27" height="18.51" fill="#e0f3f8"/><rect x="394.82" y="446.73" width="16.27" height="18.51" fill="#e0f3f8"/><rect x="411.09" y="446.73" width="16.27" height="18.51" fill="#74add1"/><rect x="443.63" y="446.73" width="16.27" height="18.51" fill="#fdae61"/><rect x="102.00" y="465.24" width="16.27" height="18.51" fill="#74add1"/><rect x="134.54" y="465.24" width="16.27" height="18.51" fill="#abd9e9"/><rect x="167.07" y="465.24" width="16.27" height="18.51" fill="#e0f3f8"/><rect x="183.34" y="465.24" width="16.27" height="18.51" fill="#fdae61"/><rect x="199.61" y="465.24" width="16.27" height="18.51" fill="#e0f3f8"/><rect x="215.88" y="465.24" width="16.27" height="18.51" fill="#e0f3f8"/><rect x="264.68" y="465.24" width="16.27" height="18.51" fill="#e0f3f8"/><rect x="329.75" y="465.24" width="16.27" height="18.51" fill="#e0f3f8"/><rect x="346.02" y="465.24" width="16.27" height="18.51" fill="#e0f3f8"/><rect x="378.56" y="465.24" width="16.27" height="18.51" fill="#fee090"/><rect x="394.82" y="465.24" width="16.27" height="18.51" fill="#fee090"/><rect x="411.09" y="465.24" width="16.27" height="18.51" fill="#fdae61"/><rect x="118.27" y="483.75" width="16.27" height="18.51" fill="#fdae61"/><rect x="183.34" y="483.75" width="16.27" height="18.51" fill="#fdae61"/><rect x="199.61" y="483.75" width="16.27" height="18.51" fill="#fdae61"/><rect x="215.88" y="483.75" width="16.27" height="18.51" fill="#e0f3f8"/><rect x="264.68" y="483.75" width="16.27" height="18.51" fill="#fdae61"/><rect x="313.48" y="483.75" width="16.27" height="18.51" fill="#e0f3f8"/><rect x="329.75" y="483.75" width="16.27" height="18.51" fill="#e0f3f8"/><rect x="346.02" y="483.75" width="16.27" height="18.51" fill="#e0f3f8"/><rect x="362.29" y="483.75" width="16.27" height="18.51" fill="#abd9e9"/><rect x="378.56" y="483.75" width="16.27" height="18.51" fill="#e0f3f8"/><rect x="411.09" y="483.75" width="16.27" height="18.51" fill="#fdae61"/><rect x="280.95" y="502.26" width="16.27" height="18.51" fill="#fee090"/><rect x="378.56" y="502.26" width="16.27" height="18.51" fill="#f46d43"/><rect x="264.68" y="520.78" width="16.27" height="18.51" fill="#fee090"/><rect x="280.95" y="520.78" width="16.27" height="18.51" fill="#d73027"/></g>
<rect x="45.5" y="308.5" width="495.1" height="268.0" fill="none" stroke="#404040" stroke-width="1"/>
<path d="M41.5,326.7H45.5M41.5,373.0H45.5M41.5,419.3H45.5M41.5,465.5H45.5M41.5,511.8H45.5M41.5,558.1H45.5M102.0,576.5v4M183.3,576.5v4M264.7,576.5v4M346.0,576.5v4M427.4,576.5v4M508.7,576.5v4" stroke="#333" stroke-width="1.1" fill="none"/>
<text class="t" x="37.1" y="331.4" text-anchor="end" textLength="29.6" lengthAdjust="spacingAndGlyphs">50°N</text>
<text class="t" x="37.1" y="377.7" text-anchor="end" textLength="29.6" lengthAdjust="spacingAndGlyphs">45°N</text>
<text class="t" x="37.1" y="424.0" text-anchor="end" textLength="29.6" lengthAdjust="spacingAndGlyphs">40°N</text>
<text class="t" x="37.1" y="470.2" text-anchor="end" textLength="29.6" lengthAdjust="spacingAndGlyphs">35°N</text>
<text class="t" x="37.1" y="516.5" text-anchor="end" textLength="29.6" lengthAdjust="spacingAndGlyphs">30°N</text>
<text class="t" x="37.1" y="562.8" text-anchor="end" textLength="29.6" lengthAdjust="spacingAndGlyphs">25°N</text>
<text class="t" x="102.2" y="593.0" text-anchor="middle" textLength="39.3" lengthAdjust="spacingAndGlyphs">120°W</text>
<text class="t" x="183.5" y="593.0" text-anchor="middle" textLength="39.3" lengthAdjust="spacingAndGlyphs">110°W</text>
<text class="t" x="264.9" y="593.0" text-anchor="middle" textLength="39.3" lengthAdjust="spacingAndGlyphs">100°W</text>
<text class="t" x="347.2" y="593.0" text-anchor="middle" textLength="32.4" lengthAdjust="spacingAndGlyphs">90°W</text>
<text class="t" x="428.6" y="593.0" text-anchor="middle" textLength="32.4" lengthAdjust="spacingAndGlyphs">80°W</text>
<text class="t" x="509.9" y="593.0" text-anchor="middle" textLength="32.4" lengthAdjust="spacingAndGlyphs">70°W</text>
<text class="pl" x="51" y="564.1" style="font-size:22.3px">b</text>
</g>
<g class="panel">
<path d="M79.6,636.3 L80.9,638.0 L82.1,639.9 L81.3,641.7 L82.9,644.1 L83.3,648.3 L82.5,651.5 L78.8,653.4 L78.0,651.5 L80.9,648.7 L81.3,645.9 L79.6,643.6 L76.8,643.6 L73.5,643.8 L68.7,643.1 L63.6,641.4 L64.2,645.9 L66.2,649.6 L67.8,654.3 L69.5,657.1 L69.1,661.1 L69.9,664.5 L69.7,670.1 L69.1,675.7 L68.2,682.2 L67.4,687.8 L65.4,692.9 L66.2,697.1 L67.7,700.8 L68.2,705.5 L68.7,710.1 L66.4,715.2 L68.7,718.5 L71.1,724.0 L71.9,729.2 L76.8,734.3 L77.8,738.0 L81.7,739.9 L82.1,743.1 L82.9,746.4 L86.1,747.8 L87.4,749.2 L86.4,751.0 L87.4,754.7 L91.4,759.4 L95.1,763.1 L96.9,766.8 L97.1,770.1 L101.2,770.8 L106.1,771.5 L108.5,773.8 L111.8,775.0 L114.2,775.0 L115.0,777.5 L117.5,778.0 L121.5,780.8 L124.0,784.5 L124.4,787.3 L125.4,788.9 L144.9,787.1 L144.2,789.1 L174.6,800.0 L197.9,800.0 L197.9,795.8 L211.6,795.8 L214.2,798.7 L219.1,802.4 L224.0,806.4 L226.5,811.5 L228.1,815.7 L232.1,818.9 L239.1,822.0 L241.5,818.9 L243.0,814.8 L246.0,813.6 L253.3,814.5 L256.5,818.3 L259.2,820.8 L262.2,828.2 L265.9,832.9 L268.7,835.6 L269.2,839.8 L272.0,845.9 L275.3,847.1 L279.3,849.1 L284.2,850.5 L287.9,850.1 L287.5,845.0 L285.8,840.3 L286.6,835.6 L288.7,831.9 L292.3,828.2 L297.2,825.4 L302.9,822.2 L307.0,818.9 L307.8,816.1 L310.2,816.6 L314.8,815.2 L320.0,814.5 L324.9,816.3 L328.9,816.1 L331.4,817.0 L335.4,818.9 L338.7,820.8 L343.6,820.8 L346.8,818.9 L350.1,821.2 L353.7,821.2 L351.7,818.0 L349.3,815.2 L350.9,812.9 L347.6,811.5 L345.2,809.6 L348.5,810.5 L351.7,809.4 L355.8,808.7 L359.0,809.0 L361.5,809.1 L361.9,806.4 L363.1,808.7 L364.3,810.1 L366.4,809.6 L369.6,809.1 L374.5,808.7 L377.7,809.6 L381.0,811.5 L383.8,815.4 L386.7,816.1 L391.6,812.9 L394.8,811.5 L398.1,814.7 L401.3,818.4 L404.6,821.2 L405.8,826.4 L404.6,831.9 L406.6,834.7 L406.2,836.6 L409.5,841.7 L411.1,845.0 L413.1,849.6 L416.8,851.9 L418.4,857.5 L421.7,857.5 L424.1,856.6 L426.1,851.9 L427.0,846.8 L427.1,842.2 L424.9,835.6 L422.9,830.1 L422.9,826.4 L420.9,823.6 L419.2,818.9 L416.8,813.3 L416.0,808.7 L415.6,805.7 L416.0,802.2 L418.0,797.5 L420.3,793.3 L423.7,790.5 L428.2,787.3 L432.6,784.0 L434.7,780.8 L436.3,778.5 L439.2,776.4 L443.6,776.3 L444.4,774.3 L448.5,770.5 L452.6,768.9 L455.8,769.2 L457.5,766.4 L461.9,764.0 L463.7,763.6 L464.2,760.3 L462.3,755.7 L460.7,751.5 L459.9,748.0 L457.5,747.8 L456.2,745.4 L457.5,742.2 L457.0,738.9 L452.6,736.1 L449.7,734.7 L451.4,731.0 L452.2,734.7 L455.8,736.6 L456.2,731.5 L456.2,727.8 L459.1,724.5 L458.3,729.6 L459.1,735.2 L461.1,738.5 L459.9,745.0 L462.3,742.2 L464.8,738.5 L467.2,734.7 L467.5,732.4 L467.2,730.6 L464.8,726.4 L463.6,723.1 L465.2,725.0 L468.4,729.4 L471.3,726.4 L473.7,723.6 L475.8,719.4 L476.2,715.2 L474.1,714.8 L476.2,712.9 L476.6,714.0 L481.9,713.5 L487.6,712.0 L493.5,709.4 L490.0,709.2 L486.7,710.4 L481.9,710.8 L478.2,711.5 L479.0,710.1 L483.5,708.5 L488.4,707.6 L493.6,707.1 L496.5,706.7 L497.3,703.6 L498.9,705.5 L500.6,705.3 L503.4,705.0 L506.3,704.2 L509.1,703.9 L508.9,701.3 L507.1,700.3 L508.3,702.7 L504.6,702.8 L503.4,700.8 L502.6,698.5 L500.6,697.7 L501.8,696.1 L503.8,694.8 L502.2,692.7 L503.0,690.8 L505.4,687.8 L507.1,685.5 L508.1,685.9 L508.4,683.8 L509.8,685.2 L510.3,684.1 L511.4,684.5 L511.6,682.4 L513.0,683.8 L513.6,682.7 L514.6,683.1 L514.9,681.0 L516.3,682.4 L516.8,681.3 L517.9,680.9 L516.8,679.1 L518.7,679.2 L518.5,678.0 L518.7,679.1 L520.2,678.1 L519.9,680.1 L520.9,679.9 L522.0,680.3 L522.2,678.2 L523.6,679.6 L524.2,678.5 L525.4,678.9 L525.9,676.8 L527.4,678.2 L528.2,677.1 L529.2,677.6 L529.6,675.6 L530.8,677.2 L531.5,676.2 L532.4,676.4 L531.8,674.6 L533.3,675.6 L533.3,674.6 L531.5,671.3 L529.4,670.3 L529.4,667.3 L526.6,666.4 L526.8,653.6 L522.5,651.0 L517.6,652.4 L515.0,650.0 L508.7,657.1 L506.3,664.5 L502.2,669.2 L499.9,670.1 L496.5,673.5 L481.5,673.5 L470.1,673.5 L465.6,674.5 L461.5,678.0 L459.1,679.6 L456.6,681.3 L452.6,685.6 L437.9,685.6 L433.5,687.5 L434.9,689.1 L435.3,691.5 L436.1,693.1 L429.3,696.1 L423.3,697.8 L417.2,698.8 L407.8,703.8 L405.4,703.8 L402.4,701.2 L401.7,699.9 L402.6,697.7 L406.2,695.2 L407.0,692.0 L409.6,684.1 L408.2,675.2 L406.6,669.6 L398.9,665.5 L399.3,663.8 L395.6,662.9 L394.0,661.3 L394.0,658.8 L389.9,659.2 L387.8,655.2 L385.5,654.1 L370.9,646.9 L358.5,642.2 L351.3,645.2 L349.3,645.0 L345.2,644.1 L339.5,642.9 L333.8,644.5 L329.8,642.2 L326.5,642.7 L321.6,639.2 L315.1,639.9 L308.6,638.3 L307.8,634.8 L306.8,632.7 L304.1,632.2 L304.1,636.3 L79.6,636.3Z" fill="none" stroke="#5e5e5e" stroke-width="0.95" stroke-linejoin="round"/>
<path d="M501.9,706.8 L503.8,705.7 L505.0,706.6 L502.6,707.3 L501.9,706.8M506.7,707.3 L508.3,706.6 L508.9,707.8 L507.1,707.9 L506.7,707.3M424.5,856.1 L422.5,859.4 L418.4,861.7 L412.7,863.1M69.1,661.1 L74.3,661.7 L78.4,662.7 L79.2,666.9 L84.1,667.8 L92.2,666.9 L97.9,666.4 L105.3,664.3 L110.1,663.6 L127.1,663.6M126.1,635.7 L126.1,659.6 L127.1,663.6 L130.5,668.2 L127.6,673.4 L124.8,678.9 L126.2,683.6 L126.2,700.8M67.7,700.8 L174.8,700.8M102.0,700.8 L102.0,728.7 L145.7,765.9 L146.2,767.8 L148.0,771.5 L149.6,772.7 L147.1,775.7 L146.6,779.4 L144.9,781.2 L146.7,784.5 L144.9,787.1M145.7,765.9 L145.9,761.2 L144.8,755.9 L148.0,755.4 L150.4,754.7 L150.4,747.3 L150.5,700.8M150.4,747.3 L308.4,747.3M191.1,800.0 L191.1,710.1M174.8,700.8 L174.8,710.1 L231.7,710.1M174.8,700.8 L174.8,672.9 L231.7,672.9M174.8,677.8 L171.5,675.7 L164.6,677.5 L160.2,678.5 L155.3,673.8 L150.8,667.3 L146.3,667.8 L148.0,657.6 L143.1,654.3 L137.0,650.1 L134.1,645.0 L134.1,635.7M231.7,635.7 L231.7,710.1M231.7,664.2 L292.7,664.2M231.7,691.5 L276.9,691.5 L281.8,693.4 L287.5,692.9 L291.5,695.2 L293.6,696.2M231.7,710.1 L248.0,710.1 L248.0,747.3M248.0,719.4 L302.9,719.4M240.3,747.3 L240.3,752.0 L264.7,752.0 L264.7,770.0 L267.9,771.5 L271.2,772.4 L276.1,773.8 L280.1,774.3 L284.2,776.1 L287.5,777.1 L290.7,776.6 L294.0,777.5 L298.8,776.6 L302.9,776.4 L307.8,778.0 L309.6,778.5 L313.2,779.4 L313.2,793.8 L315.5,798.5 L317.1,802.2 L315.9,807.8 L315.5,810.5 L314.8,815.2M240.0,752.0 L239.8,793.8 L210.8,793.8 L211.6,795.8M309.6,778.5 L310.0,762.2 L308.4,752.0 L308.4,747.3 L308.5,727.8 L305.4,723.1 L302.9,719.4 L299.1,714.0 L298.0,707.3 L296.4,702.7 L293.6,696.2 L292.3,690.6 L293.6,686.9 L293.6,670.1 L290.3,667.3 L292.7,664.2 L290.7,658.0 L290.3,649.6 L287.9,643.1 L287.2,635.7M293.6,686.9 L336.1,686.9M299.1,714.0 L331.9,713.7 L334.5,715.9M329.8,657.1 L327.4,657.5 L327.4,662.7 L323.2,667.3 L323.7,675.2 L330.6,680.3 L335.4,684.1 L336.1,686.9 L337.1,692.4 L340.8,696.1 L344.4,702.7 L338.7,706.4 L337.1,712.0 L334.5,715.9 L334.2,720.3 L339.5,726.4 L344.4,730.6 L343.2,736.1 L348.5,740.8 L350.1,744.5 L353.1,747.3 L350.9,752.0 L348.5,756.6 L345.2,765.0 L343.6,765.9 L341.1,771.5 L337.1,778.9 L336.7,784.5 L338.7,790.1 L335.4,795.7 L333.0,803.1 L348.2,803.1 L347.2,806.4 L349.3,810.5M308.4,752.0 L344.8,752.0 L343.0,756.6 L348.5,756.6M313.2,784.3 L336.7,784.5M340.8,696.1 L363.9,696.2M350.5,645.3 L347.6,649.0 L345.5,652.3 L343.7,655.7 L342.8,658.3 L353.3,662.7 L361.5,665.0 L363.9,669.6 L365.5,672.0 L368.0,670.3 L371.8,668.8 L374.5,670.6 L374.0,672.4 L371.8,681.0 L369.6,691.0 L369.2,696.2 L368.8,703.0M329.8,657.1 L337.9,654.5 L345.5,652.3M363.9,696.2 L369.2,696.2M366.2,703.6 L366.2,703.0 L372.0,703.0M399.3,703.3 L402.4,701.2M423.1,701.0 L423.1,697.8M429.3,698.3 L429.3,696.1M366.2,703.6 L366.1,725.4 L365.1,729.6 L362.7,735.7 L361.9,739.9M353.1,747.3 L358.2,746.4 L361.9,739.9 L365.5,738.5 L369.6,739.9 L374.5,738.5 L378.6,738.0 L381.0,735.2 L383.4,731.5 L388.2,727.8 L390.8,727.8 L393.2,730.6 L397.3,732.0 L403.0,731.5 L406.2,734.3 L409.5,732.4 L413.1,727.8 L419.2,723.1 L420.4,721.7 L422.1,715.7 L423.1,713.4M388.2,727.8 L388.3,703.6M372.0,703.0 L388.3,703.6 L399.3,703.3M423.1,701.0 L423.1,722.0M429.3,698.3 L429.3,700.8 L465.2,700.8 L467.6,704.5 L470.5,706.8 L467.2,710.6 L466.4,713.4 L470.1,717.5 L467.2,720.3 L464.4,721.3 L463.6,723.1M470.5,706.8 L477.0,710.1M423.1,722.0 L461.6,722.0 L463.1,721.0 L464.4,721.3M461.6,722.0 L462.3,733.7 L467.6,733.8M431.6,722.0 L431.6,726.8 L435.5,724.5 L440.4,722.9 L444.8,723.1 L445.9,725.7 L447.7,727.8 L450.9,729.6 L451.4,731.0M445.9,725.7 L440.8,725.0 L436.6,730.8 L433.1,733.8 L430.2,732.9 L424.9,742.2 L419.2,744.7 L413.9,745.4 L411.3,742.3 L408.7,740.8 L406.2,736.4 L406.2,734.3M411.3,742.3 L405.4,746.8 L397.4,751.0M460.7,751.5 L413.7,751.1 L397.4,751.0 L361.9,750.7 L361.7,752.0 L350.9,752.0M413.7,751.1 L411.1,755.5 L406.2,756.6 L402.1,758.7 L394.8,762.2 L392.2,766.0M402.1,765.9 L343.6,765.9M402.1,765.9 L407.8,764.0 L418.8,764.5 L419.8,765.0 L420.9,767.6 L430.0,767.8 L439.2,776.4M402.1,765.9 L400.1,768.7 L403.8,771.0 L406.6,775.2 L409.5,778.5 L411.5,780.1 L415.2,784.5 L416.0,788.2 L418.4,792.9 L420.3,793.3M381.8,766.1 L385.2,785.8 L386.7,791.0 L386.3,798.0 L386.7,803.1 L387.8,805.9 L409.5,807.1 L410.7,809.1 L411.1,805.4 L415.6,805.7M386.7,803.1 L365.5,803.1 L367.2,805.9 L366.4,809.6M360.7,766.0 L358.5,794.7 L359.0,809.0M481.5,672.8 L481.0,677.5 L481.0,682.2 L482.3,685.9 L482.1,693.8 L480.2,700.3 L480.3,707.3 L478.4,709.2 L479.0,710.1M496.5,672.8 L495.7,677.5 L492.0,681.3 L490.0,685.9 L488.8,690.6 L488.7,694.0M482.1,693.8 L498.1,694.3 L500.6,692.7 L502.2,692.7M480.2,700.3 L494.1,700.6 L497.5,700.6 L497.5,701.7 L498.9,705.5M494.1,700.6 L493.6,707.1M499.9,670.1 L500.6,682.2 L500.8,687.8 L503.0,690.8M462.7,738.5 L466.1,737.7" fill="none" stroke="#6a6a6a" stroke-width="0.85" stroke-linejoin="round"/>
<g shape-rendering="crispEdges" opacity="0.86"><rect x="69.46" y="635.70" width="16.27" height="18.60" fill="#fdae61"/><rect x="85.73" y="635.70" width="16.27" height="18.60" fill="#fee090"/><rect x="102.00" y="635.70" width="16.27" height="18.60" fill="#e0f3f8"/><rect x="118.27" y="635.70" width="16.27" height="18.60" fill="#fee090"/><rect x="134.54" y="635.70" width="16.27" height="18.60" fill="#4575b4"/><rect x="150.80" y="635.70" width="16.27" height="18.60" fill="#fee090"/><rect x="167.07" y="635.70" width="16.27" height="18.60" fill="#e0f3f8"/><rect x="183.34" y="635.70" width="16.27" height="18.60" fill="#fee090"/><rect x="199.61" y="635.70" width="16.27" height="18.60" fill="#fee090"/><rect x="215.88" y="635.70" width="16.27" height="18.60" fill="#fee090"/><rect x="232.14" y="635.70" width="16.27" height="18.60" fill="#fee090"/><rect x="248.41" y="635.70" width="16.27" height="18.60" fill="#fdae61"/><rect x="297.22" y="635.70" width="16.27" height="18.60" fill="#e0f3f8"/><rect x="313.48" y="635.70" width="16.27" height="18.60" fill="#f46d43"/><rect x="69.46" y="654.30" width="16.27" height="18.60" fill="#e0f3f8"/><rect x="85.73" y="654.30" width="16.27" height="18.60" fill="#fee090"/><rect x="134.54" y="654.30" width="16.27" height="18.60" fill="#e0f3f8"/><rect x="167.07" y="654.30" width="16.27" height="18.60" fill="#e0f3f8"/><rect x="183.34" y="654.30" width="16.27" height="18.60" fill="#fdae61"/><rect x="199.61" y="654.30" width="16.27" height="18.60" fill="#e0f3f8"/><rect x="215.88" y="654.30" width="16.27" height="18.60" fill="#abd9e9"/><rect x="248.41" y="654.30" width="16.27" height="18.60" fill="#e0f3f8"/><rect x="264.68" y="654.30" width="16.27" height="18.60" fill="#fee090"/><rect x="280.95" y="654.30" width="16.27" height="18.60" fill="#fdae61"/><rect x="297.22" y="654.30" width="16.27" height="18.60" fill="#e0f3f8"/><rect x="313.48" y="654.30" width="16.27" height="18.60" fill="#abd9e9"/><rect x="329.75" y="654.30" width="16.27" height="18.60" fill="#abd9e9"/><rect x="362.29" y="654.30" width="16.27" height="18.60" fill="#fdae61"/><rect x="378.56" y="654.30" width="16.27" height="18.60" fill="#fee090"/><rect x="492.43" y="654.30" width="16.27" height="18.60" fill="#e0f3f8"/><rect x="69.46" y="672.90" width="16.27" height="18.60" fill="#fee090"/><rect x="118.27" y="672.90" width="16.27" height="18.60" fill="#a50026"/><rect x="134.54" y="672.90" width="16.27" height="18.60" fill="#fee090"/><rect x="150.80" y="672.90" width="16.27" height="18.60" fill="#abd9e9"/><rect x="167.07" y="672.90" width="16.27" height="18.60" fill="#fee090"/><rect x="183.34" y="672.90" width="16.27" height="18.60" fill="#74add1"/><rect x="199.61" y="672.90" width="16.27" height="18.60" fill="#fdae61"/><rect x="215.88" y="672.90" width="16.27" height="18.60" fill="#e0f3f8"/><rect x="248.41" y="672.90" width="16.27" height="18.60" fill="#e0f3f8"/><rect x="264.68" y="672.90" width="16.27" height="18.60" fill="#e0f3f8"/><rect x="297.22" y="672.90" width="16.27" height="18.60" fill="#f46d43"/><rect x="329.75" y="672.90" width="16.27" height="18.60" fill="#abd9e9"/><rect x="346.02" y="672.90" width="16.27" height="18.60" fill="#fee090"/><rect x="362.29" y="672.90" width="16.27" height="18.60" fill="#fee090"/><rect x="459.90" y="672.90" width="16.27" height="18.60" fill="#abd9e9"/><rect x="476.16" y="672.90" width="16.27" height="18.60" fill="#e0f3f8"/><rect x="492.43" y="672.90" width="16.27" height="18.60" fill="#fee090"/><rect x="69.46" y="691.50" width="16.27" height="18.60" fill="#f46d43"/><rect x="85.73" y="691.50" width="16.27" height="18.60" fill="#d73027"/><rect x="134.54" y="691.50" width="16.27" height="18.60" fill="#a50026"/><rect x="150.80" y="691.50" width="16.27" height="18.60" fill="#e0f3f8"/><rect x="167.07" y="691.50" width="16.27" height="18.60" fill="#abd9e9"/><rect x="183.34" y="691.50" width="16.27" height="18.60" fill="#323896"/><rect x="199.61" y="691.50" width="16.27" height="18.60" fill="#fee090"/><rect x="215.88" y="691.50" width="16.27" height="18.60" fill="#e0f3f8"/><rect x="232.14" y="691.50" width="16.27" height="18.60" fill="#e0f3f8"/><rect x="248.41" y="691.50" width="16.27" height="18.60" fill="#e0f3f8"/><rect x="264.68" y="691.50" width="16.27" height="18.60" fill="#e0f3f8"/><rect x="280.95" y="691.50" width="16.27" height="18.60" fill="#fdae61"/><rect x="313.48" y="691.50" width="16.27" height="18.60" fill="#fee090"/><rect x="329.75" y="691.50" width="16.27" height="18.60" fill="#e0f3f8"/><rect x="346.02" y="691.50" width="16.27" height="18.60" fill="#fee090"/><rect x="378.56" y="691.50" width="16.27" height="18.60" fill="#fee090"/><rect x="411.09" y="691.50" width="16.27" height="18.60" fill="#fee090"/><rect x="427.36" y="691.50" width="16.27" height="18.60" fill="#abd9e9"/><rect x="443.63" y="691.50" width="16.27" height="18.60" fill="#fee090"/><rect x="459.90" y="691.50" width="16.27" height="18.60" fill="#abd9e9"/><rect x="476.16" y="691.50" width="16.27" height="18.60" fill="#fee090"/><rect x="69.46" y="710.10" width="16.27" height="18.60" fill="#d73027"/><rect x="85.73" y="710.10" width="16.27" height="18.60" fill="#74add1"/><rect x="118.27" y="710.10" width="16.27" height="18.60" fill="#e0f3f8"/><rect x="134.54" y="710.10" width="16.27" height="18.60" fill="#d73027"/><rect x="150.80" y="710.10" width="16.27" height="18.60" fill="#e0f3f8"/><rect x="167.07" y="710.10" width="16.27" height="18.60" fill="#a50026"/><rect x="183.34" y="710.10" width="16.27" height="18.60" fill="#abd9e9"/><rect x="199.61" y="710.10" width="16.27" height="18.60" fill="#fee090"/><rect x="215.88" y="710.10" width="16.27" height="18.60" fill="#f46d43"/><rect x="248.41" y="710.10" width="16.27" height="18.60" fill="#fdae61"/><rect x="264.68" y="710.10" width="16.27" height="18.60" fill="#e0f3f8"/><rect x="280.95" y="710.10" width="16.27" height="18.60" fill="#fdae61"/><rect x="297.22" y="710.10" width="16.27" height="18.60" fill="#e0f3f8"/><rect x="313.48" y="710.10" width="16.27" height="18.60" fill="#f46d43"/><rect x="329.75" y="710.10" width="16.27" height="18.60" fill="#fdae61"/><rect x="378.56" y="710.10" width="16.27" height="18.60" fill="#e0f3f8"/><rect x="411.09" y="710.10" width="16.27" height="18.60" fill="#fee090"/><rect x="443.63" y="710.10" width="16.27" height="18.60" fill="#fee090"/><rect x="459.90" y="710.10" width="16.27" height="18.60" fill="#fee090"/><rect x="85.73" y="728.70" width="16.27" height="18.60" fill="#a50026"/><rect x="102.00" y="728.70" width="16.27" height="18.60" fill="#e0f3f8"/><rect x="150.80" y="728.70" width="16.27" height="18.60" fill="#abd9e9"/><rect x="167.07" y="728.70" width="16.27" height="18.60" fill="#abd9e9"/><rect x="183.34" y="728.70" width="16.27" height="18.60" fill="#d73027"/><rect x="199.61" y="728.70" width="16.27" height="18.60" fill="#abd9e9"/><rect x="215.88" y="728.70" width="16.27" height="18.60" fill="#fee090"/><rect x="264.68" y="728.70" width="16.27" height="18.60" fill="#e0f3f8"/><rect x="362.29" y="728.70" width="16.27" height="18.60" fill="#fdae61"/><rect x="378.56" y="728.70" width="16.27" height="18.60" fill="#74add1"/><rect x="394.82" y="728.70" width="16.27" height="18.60" fill="#4575b4"/><rect x="411.09" y="728.70" width="16.27" height="18.60" fill="#e0f3f8"/><rect x="427.36" y="728.70" width="16.27" height="18.60" fill="#e0f3f8"/><rect x="443.63" y="728.70" width="16.27" height="18.60" fill="#e0f3f8"/><rect x="102.00" y="747.30" width="16.27" height="18.60" fill="#fee090"/><rect x="118.27" y="747.30" width="16.27" height="18.60" fill="#e0f3f8"/><rect x="150.80" y="747.30" width="16.27" height="18.60" fill="#fdae61"/><rect x="167.07" y="747.30" width="16.27" height="18.60" fill="#e0f3f8"/><rect x="183.34" y="747.30" width="16.27" height="18.60" fill="#e0f3f8"/><rect x="199.61" y="747.30" width="16.27" height="18.60" fill="#e0f3f8"/><rect x="215.88" y="747.30" width="16.27" height="18.60" fill="#fee090"/><rect x="232.14" y="747.30" width="16.27" height="18.60" fill="#fee090"/><rect x="264.68" y="747.30" width="16.27" height="18.60" fill="#e0f3f8"/><rect x="280.95" y="747.30" width="16.27" height="18.60" fill="#e0f3f8"/><rect x="297.22" y="747.30" width="16.27" height="18.60" fill="#fee090"/><rect x="313.48" y="747.30" width="16.27" height="18.60" fill="#e0f3f8"/><rect x="378.56" y="747.30" width="16.27" height="18.60" fill="#e0f3f8"/><rect x="394.82" y="747.30" width="16.27" height="18.60" fill="#f46d43"/><rect x="411.09" y="747.30" width="16.27" height="18.60" fill="#e0f3f8"/><rect x="443.63" y="747.30" width="16.27" height="18.60" fill="#f46d43"/><rect x="102.00" y="765.90" width="16.27" height="18.60" fill="#d73027"/><rect x="134.54" y="765.90" width="16.27" height="18.60" fill="#f46d43"/><rect x="167.07" y="765.90" width="16.27" height="18.60" fill="#d73027"/><rect x="183.34" y="765.90" width="16.27" height="18.60" fill="#a50026"/><rect x="199.61" y="765.90" width="16.27" height="18.60" fill="#fee090"/><rect x="215.88" y="765.90" width="16.27" height="18.60" fill="#a50026"/><rect x="264.68" y="765.90" width="16.27" height="18.60" fill="#abd9e9"/><rect x="329.75" y="765.90" width="16.27" height="18.60" fill="#fee090"/><rect x="346.02" y="765.90" width="16.27" height="18.60" fill="#fee090"/><rect x="378.56" y="765.90" width="16.27" height="18.60" fill="#e0f3f8"/><rect x="394.82" y="765.90" width="16.27" height="18.60" fill="#fdae61"/><rect x="411.09" y="765.90" width="16.27" height="18.60" fill="#fee090"/><rect x="118.27" y="784.50" width="16.27" height="18.60" fill="#f46d43"/><rect x="183.34" y="784.50" width="16.27" height="18.60" fill="#fdae61"/><rect x="199.61" y="784.50" width="16.27" height="18.60" fill="#a50026"/><rect x="215.88" y="784.50" width="16.27" height="18.60" fill="#e0f3f8"/><rect x="264.68" y="784.50" width="16.27" height="18.60" fill="#e0f3f8"/><rect x="313.48" y="784.50" width="16.27" height="18.60" fill="#fee090"/><rect x="329.75" y="784.50" width="16.27" height="18.60" fill="#fee090"/><rect x="346.02" y="784.50" width="16.27" height="18.60" fill="#fdae61"/><rect x="362.29" y="784.50" width="16.27" height="18.60" fill="#fdae61"/><rect x="378.56" y="784.50" width="16.27" height="18.60" fill="#fee090"/><rect x="411.09" y="784.50" width="16.27" height="18.60" fill="#fdae61"/><rect x="280.95" y="803.10" width="16.27" height="18.60" fill="#abd9e9"/><rect x="378.56" y="803.10" width="16.27" height="18.60" fill="#fee090"/><rect x="264.68" y="821.70" width="16.27" height="18.60" fill="#e0f3f8"/><rect x="280.95" y="821.70" width="16.27" height="18.60" fill="#abd9e9"/></g>
<rect x="45.5" y="608.5" width="495.1" height="269.0" fill="none" stroke="#404040" stroke-width="1"/>
<path d="M41.5,626.7H45.5M41.5,673.2H45.5M41.5,719.7H45.5M41.5,766.2H45.5M41.5,812.7H45.5M41.5,859.2H45.5M102.0,877.5v4M183.3,877.5v4M264.7,877.5v4M346.0,877.5v4M427.4,877.5v4M508.7,877.5v4" stroke="#333" stroke-width="1.1" fill="none"/>
<text class="t" x="37.1" y="631.4" text-anchor="end" textLength="29.6" lengthAdjust="spacingAndGlyphs">50°N</text>
<text class="t" x="37.1" y="677.9" text-anchor="end" textLength="29.6" lengthAdjust="spacingAndGlyphs">45°N</text>
<text class="t" x="37.1" y="724.4" text-anchor="end" textLength="29.6" lengthAdjust="spacingAndGlyphs">40°N</text>
<text class="t" x="37.1" y="770.9" text-anchor="end" textLength="29.6" lengthAdjust="spacingAndGlyphs">35°N</text>
<text class="t" x="37.1" y="817.4" text-anchor="end" textLength="29.6" lengthAdjust="spacingAndGlyphs">30°N</text>
<text class="t" x="37.1" y="863.9" text-anchor="end" textLength="29.6" lengthAdjust="spacingAndGlyphs">25°N</text>
<text class="t" x="102.2" y="894.0" text-anchor="middle" textLength="39.3" lengthAdjust="spacingAndGlyphs">120°W</text>
<text class="t" x="183.5" y="894.0" text-anchor="middle" textLength="39.3" lengthAdjust="spacingAndGlyphs">110°W</text>
<text class="t" x="264.9" y="894.0" text-anchor="middle" textLength="39.3" lengthAdjust="spacingAndGlyphs">100°W</text>
<text class="t" x="347.2" y="894.0" text-anchor="middle" textLength="32.4" lengthAdjust="spacingAndGlyphs">90°W</text>
<text class="t" x="428.6" y="894.0" text-anchor="middle" textLength="32.4" lengthAdjust="spacingAndGlyphs">80°W</text>
<text class="t" x="509.9" y="894.0" text-anchor="middle" textLength="32.4" lengthAdjust="spacingAndGlyphs">70°W</text>
<text class="pl" x="51" y="866.9" style="font-size:20.8px">c</text>
</g>
<g><rect x="74.30" y="917.8" width="42.53" height="20.90" fill="#323896"/><rect x="116.43" y="917.8" width="42.53" height="20.90" fill="#4575b4"/><rect x="158.56" y="917.8" width="42.53" height="20.90" fill="#74add1"/><rect x="200.69" y="917.8" width="42.53" height="20.90" fill="#abd9e9"/><rect x="242.82" y="917.8" width="42.53" height="20.90" fill="#e0f3f8"/><rect x="284.95" y="917.8" width="42.53" height="20.90" fill="#fee090"/><rect x="327.08" y="917.8" width="42.53" height="20.90" fill="#fdae61"/><rect x="369.21" y="917.8" width="42.53" height="20.90" fill="#f46d43"/><rect x="411.34" y="917.8" width="42.53" height="20.90" fill="#d73027"/><rect x="453.47" y="917.8" width="42.13" height="20.90" fill="#a50026"/></g>
<text class="lt" x="116.2" y="953.7" text-anchor="middle" textLength="21.4" lengthAdjust="spacingAndGlyphs">-0.4</text>
<text class="lt" x="158.4" y="953.7" text-anchor="middle" textLength="21.4" lengthAdjust="spacingAndGlyphs">-0.3</text>
<text class="lt" x="200.5" y="953.7" text-anchor="middle" textLength="21.4" lengthAdjust="spacingAndGlyphs">-0.2</text>
<text class="lt" x="242.6" y="953.7" text-anchor="middle" textLength="21.4" lengthAdjust="spacingAndGlyphs">-0.1</text>
<text class="lt" x="284.8" y="953.7" text-anchor="middle" textLength="17.2" lengthAdjust="spacingAndGlyphs">0.0</text>
<text class="lt" x="326.9" y="953.7" text-anchor="middle" textLength="17.2" lengthAdjust="spacingAndGlyphs">0.1</text>
<text class="lt" x="369.0" y="953.7" text-anchor="middle" textLength="17.2" lengthAdjust="spacingAndGlyphs">0.2</text>
<text class="lt" x="411.1" y="953.7" text-anchor="middle" textLength="17.2" lengthAdjust="spacingAndGlyphs">0.3</text>
<text class="lt" x="453.3" y="953.7" text-anchor="middle" textLength="17.2" lengthAdjust="spacingAndGlyphs">0.4</text>
<text class="ltt" x="242.4" y="977.2" textLength="73.5" lengthAdjust="spacingAndGlyphs">°C decade</text><text class="ltt" x="316.5" y="971.5" style="font-size:8.6px" textLength="9.4" lengthAdjust="spacingAndGlyphs">−1</text>
<g id="north"><circle cx="519.5" cy="29.5" r="9.4" fill="none" stroke="#000" stroke-width="1.1"/><polygon points="519.1,18.4 511.4,37.9 519.4,32.3" fill="#fff" stroke="#000" stroke-width="0.9" stroke-linejoin="miter"/><polygon points="519.1,18.4 526.8,37.9 519.4,32.3" fill="#000" stroke="#000" stroke-width="0.9"/><text x="519.6" y="19.1" text-anchor="middle" font-size="13.6" fill="#000" stroke="#000" stroke-width="0.25">N</text></g>
<g id="scalebar"><rect x="473.6" y="858" width="56.8" height="10.1" fill="#000"/><rect x="493.3" y="859" width="17.7" height="8.1" fill="#fff"/><text x="425.2" y="867.3" font-size="12.3" fill="#000" textLength="41" lengthAdjust="spacingAndGlyphs">600 km</text></g>
</svg>
</body></html>
